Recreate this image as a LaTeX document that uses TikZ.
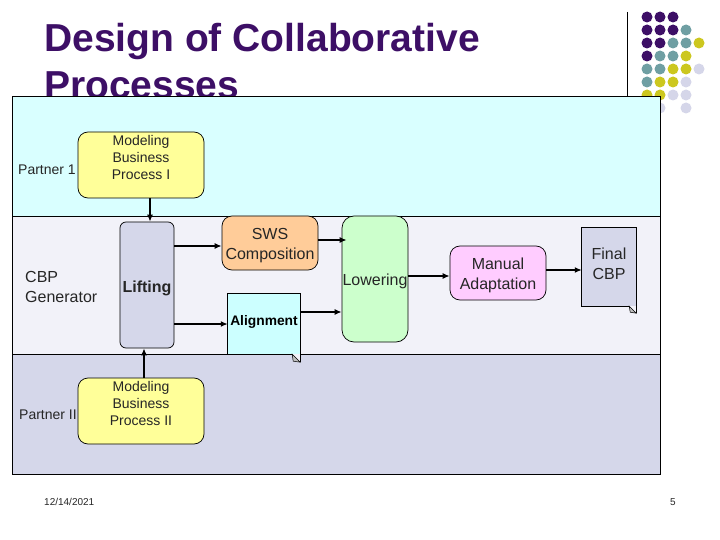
\documentclass[tikz,border=0pt]{standalone}
\usepackage{fontspec}
\setmainfont{Liberation Sans}
\usetikzlibrary{arrows.meta}
\definecolor{titlepurple}{HTML}{3D0F66}
\definecolor{dotpurple}{HTML}{3D0F66}
\definecolor{dotteal}{HTML}{6F9FA3}
\definecolor{dotyellow}{HTML}{CCC71F}
\definecolor{dotlav}{HTML}{D5D6E9}
\definecolor{panelcyan}{HTML}{D9FFFF}
\definecolor{panelgrey}{HTML}{F2F2F9}
\definecolor{panellav}{HTML}{D5D7EA}
\definecolor{boxyellow}{HTML}{FFFF99}
\definecolor{boxorange}{HTML}{FFCC99}
\definecolor{boxgreen}{HTML}{CCFFCC}
\definecolor{boxpink}{HTML}{FFCCFF}
\definecolor{notecyan}{HTML}{CCFFFF}
\definecolor{foldgrey}{HTML}{C0C0C0}
\definecolor{txt}{HTML}{262626}
\tikzset{
  panel/.style={draw=black,line width=0.7pt,minimum width=648pt,inner sep=0pt},
  rbox/.style={draw=black,line width=0.7pt,rounded corners=#1,inner sep=0pt},
  rbox/.default=10pt,
  notebox/.style={inner sep=0pt},
  lab/.style={inner sep=0pt,text=txt,align=left},
  boxtext/.style={inner sep=0pt,text=txt,align=center},
  sm/.style={font=\fontsize{14}{17}\selectfont},
  md/.style={font=\fontsize{16}{20}\selectfont},
  conn/.style={line width=2pt,-{Latex[length=7pt,width=6pt]}},
  pdot/.style={circle,fill=dotpurple,minimum size=11pt,inner sep=0pt},
  tdot/.style={circle,fill=dotteal,minimum size=11pt,inner sep=0pt},
  ydot/.style={circle,fill=dotyellow,minimum size=11pt,inner sep=0pt},
  ldot/.style={circle,fill=dotlav,minimum size=11pt,inner sep=0pt},
  rule/.style={draw=black,line width=0.7pt},
  foldmark/.style={draw=black,line width=0.5pt,fill=foldgrey}
}
\begin{document}
\begin{tikzpicture}[x=1pt,y=-1pt]
\useasboundingbox (0,0) rectangle (720,540);
\fill[white] (0,0) rectangle (720,540);
% dots
\foreach \x/\y/\s in {647/17/pdot,660/17/pdot,673/17/pdot,
  647/30/pdot,660/30/pdot,673/30/pdot,686/30/tdot,
  647/43/pdot,660/43/pdot,673/43/tdot,686/43/tdot,699/43/ydot,
  647/56/pdot,660/56/tdot,673/56/tdot,686/56/ydot,
  647/69/tdot,660/69/tdot,673/69/ydot,686/69/ydot,699/69/ldot,
  647/82/tdot,660/82/ydot,673/82/ydot,686/82/ldot,
  647/95/ydot,660/95/ydot,673/95/ldot,686/95/ldot,
  660/108/ldot,686/108/ldot}
  {\node[\s] at (\x,\y) {};}
\coordinate (ruletop) at (627,12);
\coordinate (rulebot) at (627,100);
\draw[rule] (ruletop) -- (rulebot);
% title
\node[anchor=base west,inner sep=0pt,text=titlepurple,font=\bfseries\fontsize{39}{46}\selectfont,align=left] (title) at (44,52) {Design of Collaborative};
\node[anchor=base west,inner sep=0pt,text=titlepurple,font=\bfseries\fontsize{39}{46}\selectfont] (title2) at (44,99) {Processes};
% panels
\node[panel,fill=panelcyan,minimum height=120pt] (p1) at (336,156) {};
\node[panel,fill=panelgrey,minimum height=138pt] (p2) at (336,285) {};
\node[panel,fill=panellav,minimum height=120pt] (p3) at (336,414) {};
% labels
\node[lab,sm,anchor=base west] (lp1) at (18,174.5) {Partner 1};
\node[lab,md,anchor=west] (lcbp) at (25,286.5) {CBP\\Generator};
\node[lab,sm,anchor=base west] (lp2) at (19,419.5) {Partner II};
% boxes
\node[rbox,fill=boxyellow,minimum width=126pt,minimum height=66pt] (m1) at (141,165) {};
\node[boxtext,sm,anchor=north] (m1t) at (141,135.5) {Modeling\\Business\\Process I};
\node[rbox=6pt,fill=panellav,minimum width=54pt,minimum height=126pt] (lift) at (147,285) {};
\node[inner sep=0pt,text=txt,font=\fontsize{16}{20}\selectfont\bfseries] (liftt) at (147,288) {Lifting};
\node[rbox,fill=boxorange,minimum width=96pt,minimum height=54pt] (sws) at (270,243) {};
\node[boxtext,md] (swst) at (270,245.5) {SWS\\Composition};
\node[rbox=12pt,fill=boxgreen,minimum width=66pt,minimum height=126pt] (low) at (375,279) {};
\node[boxtext,md] (lowt) at (375,281) {Lowering};
\node[rbox,fill=boxpink,minimum width=96pt,minimum height=54pt] (man) at (498,273) {};
\node[boxtext,md] (mant) at (498,275) {Manual\\Adaptation};
\node[notebox,fill=panellav,minimum width=54pt,minimum height=78pt] (fin) at (609,267) {};
\node[boxtext,md] (fint) at (609,264) {Final\\CBP};
\node[notebox,fill=notecyan,minimum width=72pt,minimum height=60pt] (ali) at (264,324) {};
\node[inner sep=0pt,text=black,font=\fontsize{13.8}{16}\selectfont\bfseries] (alit) at (264,322) {Alignment};
\node[rbox,fill=boxyellow,minimum width=126pt,minimum height=66pt] (m2) at (141,411) {};
\node[boxtext,sm,anchor=north] (m2t) at (141,381.5) {Modeling\\Business\\Process II};
% note outlines and folds
\fill[panelgrey] ([xshift=-8pt]ali.south east) -- ([yshift=-8pt]ali.south east) -- (ali.south east) -- cycle;
\draw[line width=0.7pt] ([xshift=-8pt]ali.south east) -- (ali.south west) -- (ali.north west) -- (ali.north east) -- ([yshift=-8pt]ali.south east);
\draw[foldmark] ([xshift=-8pt]ali.south east) -- ([yshift=-8pt]ali.south east) -- ([xshift=-7pt,yshift=-7pt]ali.south east) -- cycle;
\fill[panelgrey] ([xshift=-7pt]fin.south east) -- ([yshift=-7pt]fin.south east) -- (fin.south east) -- cycle;
\draw[line width=0.7pt] ([xshift=-7pt]fin.south east) -- (fin.south west) -- (fin.north west) -- (fin.north east) -- ([yshift=-7pt]fin.south east);
\draw[foldmark] ([xshift=-7pt]fin.south east) -- ([yshift=-7pt]fin.south east) -- ([xshift=-6pt,yshift=-6pt]fin.south east) -- cycle;
% connectors
\draw[conn] (m1.south -| 150,0) -- (lift.north -| 150,0);
\draw[conn] (m2.north -| 144,0) -- (lift.south -| 144,0);
\draw[conn] (lift.east |- 0,246) -- (sws.west |- 0,246);
\draw[conn] (lift.east |- 0,324) -- (ali.west |- 0,324);
\draw[conn] (sws.east |- 0,240) -- ([xshift=5pt]low.west |- 0,240);
\draw[conn] (ali.east |- 0,312) -- (low.west |- 0,312);
\draw[conn] (low.east |- 0,276) -- (man.west |- 0,276);
\draw[conn] (man.east |- 0,270) -- (fin.west |- 0,270);
% footer
\node[inner sep=0pt,anchor=base west,text=txt,font=\fontsize{10}{12}\selectfont] (date) at (44,505) {12/14/2021};
\node[inner sep=0pt,anchor=base west,text=txt,font=\fontsize{10}{12}\selectfont] (num) at (670,505) {5};
\end{tikzpicture}
\end{document}
